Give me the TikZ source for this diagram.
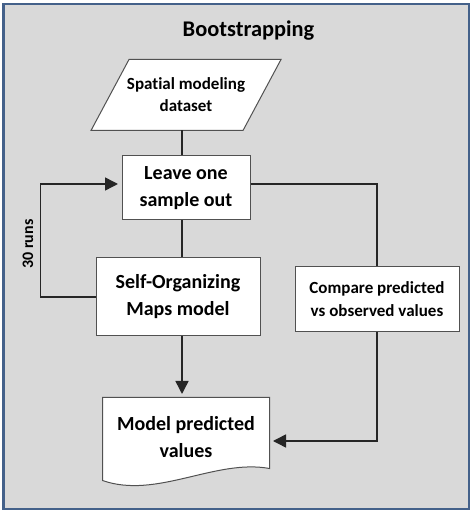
\documentclass[tikz,border=0pt]{standalone}
\usepackage{fontspec}
\setmainfont{Carlito}[Ligatures=NoCommon]
\usetikzlibrary{positioning,arrows.meta,backgrounds}
\definecolor{FrameBlue}{HTML}{44618A}
\definecolor{PanelGray}{HTML}{D9D9D9}
\definecolor{LineGray}{HTML}{262626}

\begin{document}
\begin{tikzpicture}[
    x=1pt, y=1pt,
    block/.style={draw=LineGray!80, fill=white, line width=0.5pt, align=center,
      inner sep=0pt, font=\fontsize{10}{13.5}\selectfont\bfseries},
    outline/.style={draw=LineGray!80, fill=white, line width=0.5pt},
    datain/.style={block, draw=none, fill=none, minimum width=75.5pt, minimum height=35pt,
      font=\fontsize{8.5}{11}\selectfont\bfseries},
    docbox/.style={block, draw=none, fill=none, minimum width=83pt, minimum height=39pt},
    link/.style={line width=0.75pt, color=LineGray},
    arrow/.style={link, -{Triangle[length=6.5pt,width=6.5pt]}, shorten >=1.75pt}
  ]
  \useasboundingbox (0,0) rectangle (237,257);
  \node[font=\fontsize{11.2}{13}\selectfont\bfseries] (title) at (124.25,241.5) {Bootstrapping};
  \node[datain] (data) at (93,209.5) {Spatial modeling\\dataset};
  \node[block, minimum width=64pt, minimum height=32pt, below=12.5pt of data] (leave) {Leave one\\sample out};
  \node[block, minimum width=82pt, minimum height=39pt, below=18.5pt of leave, xshift=-4pt] (som) {Self-Organizing\\Maps model};
  \node[block, minimum width=82pt, minimum height=32.5pt, right=17pt of som, yshift=-1.25pt,
    font=\fontsize{8.5}{11.5}\selectfont\bfseries] (compare) {Compare predicted\\vs observed values};
  \node[docbox, below=30.5pt of som, xshift=4pt] (model) {Model predicted\\values};
  \node[rotate=90, font=\fontsize{8}{10}\selectfont\bfseries] (runs) at (14,135) {30 runs};
  \coordinate (spine) at (91,0);
  \begin{scope}[on background layer]
    \draw[draw=FrameBlue, line width=1.25pt, fill=PanelGray] (1.75,2.5) rectangle (234.5,255);
    \draw[outline] ([xshift=9.5pt]data.north west) -- ([xshift=9.5pt]data.north east)
      -- ([xshift=-9.5pt]data.south east) -- ([xshift=-9.5pt]data.south west) -- cycle;
    \draw[outline] (model.north west) -- (model.north east)
      -- ([yshift=4pt]model.south east) .. controls +(-27,5) and +(27,-9.5) .. ([yshift=-2pt]model.south west) -- cycle;
  \end{scope}
  \draw[link] (data.south -| spine) -- (leave.north -| spine);
  \draw[link] (leave.south -| spine) -- (som.north -| spine);
  \draw[arrow] (som.south -| spine) -- (model.north -| spine);
  \draw[arrow] (som.west) -- ++(-27.5,0) |- ([yshift=2pt]leave.west);
  \draw[link] ([yshift=2pt]leave.east) -| (compare.north);
  \draw[arrow] (compare.south) |- ([yshift=-2pt]model.east);
\end{tikzpicture}
\end{document}
